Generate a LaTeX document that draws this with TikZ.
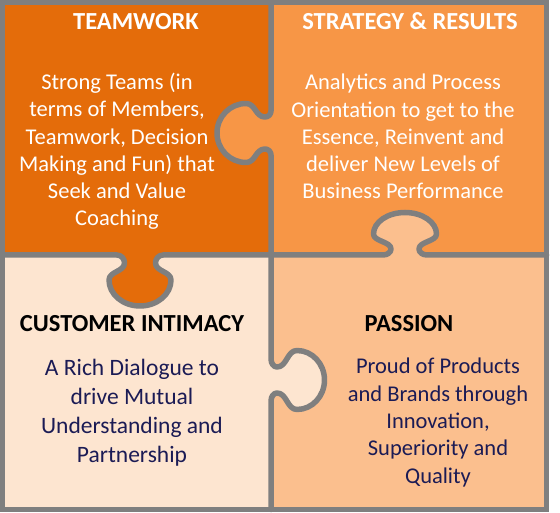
\documentclass[tikz,border=0pt]{standalone}
\usepackage{fontspec}
\setmainfont{Carlito}
\definecolor{tlc}{HTML}{E46C0A}
\definecolor{trc}{HTML}{F79646}
\definecolor{blc}{HTML}{FDE5D0}
\definecolor{brc}{HTML}{FBBF8E}
\definecolor{edgec}{HTML}{7F7F7F}
\definecolor{navy}{HTML}{1B1B55}
% knob path: a n vn R vc V  (local frame: edge along u, knob towards +v)
\newcommand{\knobpath}[6]{(-#1,0) .. controls ({-#1+0.55*(#1-#2)},0) and (-#2,{0.45*#3}) .. (-#2,#3)
 .. controls (-#2,{#3+0.5*(#5-#3)}) and (-#4,{#5-0.5*(#5-#3)}) .. (-#4,#5)
 .. controls (-#4,{#5+0.552*(#6-#5)}) and ({-0.552*#4},#6) .. (0,#6)
 .. controls ({0.552*#4},#6) and (#4,{#5+0.552*(#6-#5)}) .. (#4,#5)
 .. controls (#4,{#5-0.5*(#5-#3)}) and (#2,{#3+0.5*(#5-#3)}) .. (#2,#3)
 .. controls (#2,{0.45*#3}) and ({#1-0.55*(#1-#2)},0) .. (#1,0)}
\tikzset{
  divider/.style={draw=edgec, line width=5.5pt, line join=round, line cap=round},
  titletext/.style={font=\fontsize{24.5}{29}\selectfont\bfseries, inner sep=0pt, anchor=base},
  bodytext/.style={font=\fontsize{22.5}{27.3}\selectfont, inner sep=0pt, anchor=base, align=center},
}
\begin{document}
\begin{tikzpicture}[x=1pt,y=1pt]
\useasboundingbox (0,0) rectangle (560,512);
\fill[white] (0,0) rectangle (560,512);
% pieces
\fill[tlc] (2.5,257) rectangle (271,509.5);
\fill[trc] (271,257) rectangle (546.5,509.5);
\fill[blc] (2.5,2.5) rectangle (271,257);
\fill[brc] (271,2.5) rectangle (546.5,257);
% knob 1: TR into TL
\begin{scope}[shift={(271,379)}, rotate=90]
  \fill[trc] \knobpath{22}{16}{6}{29.5}{25}{54} -- (22,-2) -- (-22,-2) -- cycle;
  \draw[divider] (-122,0) -- \knobpath{22}{16}{6}{29.5}{25}{54} -- (130.5,0);
\end{scope}
% knob 2: TL into BL
\begin{scope}[shift={(140,257)}, rotate=180]
  \fill[tlc] \knobpath{23}{15.5}{8}{31}{25}{51} -- (23,-2) -- (-23,-2) -- cycle;
  \draw[divider] (-131,0) -- \knobpath{23}{15.5}{8}{31}{25}{51} -- (137.5,0);
\end{scope}
% knob 3: BR into TR
\begin{scope}[shift={(405,257)}]
  \fill[brc] \knobpath{22}{14}{6}{31.5}{21}{42.5} -- (22,-2) -- (-22,-2) -- cycle;
  \draw[divider] (-134,0) -- \knobpath{22}{14}{6}{31.5}{21}{42.5} -- (141.5,0);
\end{scope}
% knob 4: BL into BR
\begin{scope}[shift={(271,132)}, rotate=-90]
  \fill[blc] \knobpath{21}{13}{6}{29.5}{26}{53.5} -- (21,-2) -- (-21,-2) -- cycle;
  \draw[divider] (-125,0) -- \knobpath{21}{13}{6}{29.5}{26}{53.5} -- (129.5,0);
\end{scope}
% outer border
\draw[draw=edgec, line width=5pt] (2.5,2.5) rectangle (546.5,509.5);
% texts (multi-line nodes: base = baseline of last line)
\node[titletext, text=white] (t1) at (136,482) {TEAMWORK};
\node[titletext, text=white] (t2) at (410,482) {STRATEGY \& RESULTS};
\node[titletext, text=black] (t3) at (132,180) {CUSTOMER INTIMACY};
\node[titletext, text=black] (t4) at (409,180) {PASSION};
\node[bodytext, text=white] (b1) at (117,286) {Strong Teams (in\\terms of Members,\\Teamwork, Decision\\Making and Fun) that\\Seek and Value\\Coaching};
\node[bodytext, text=white] (b2) at (403,313) {Analytics and Process\\Orientation to get to the\\Essence, Reinvent and\\deliver New Levels of\\Business Performance};
\node[bodytext, text=navy, font=\fontsize{23.5}{29.3}\selectfont] (b3) at (132,49) {A Rich Dialogue to\\drive Mutual\\Understanding and\\Partnership};
\node[bodytext, text=navy] (b4) at (438,29) {Proud of Products\\and Brands through\\Innovation,\\Superiority and\\Quality};
\end{tikzpicture}
\end{document}
